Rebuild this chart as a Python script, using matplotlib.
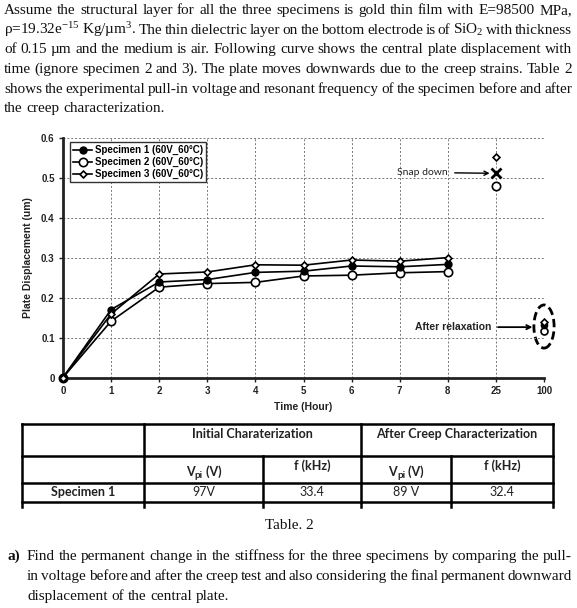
import numpy as np
import matplotlib
matplotlib.use('Agg')
import matplotlib.pyplot as plt
from matplotlib.patches import Ellipse

plt.rcParams['font.family'] = 'Liberation Sans'
plt.rcParams['mathtext.fontset'] = 'custom'
plt.rcParams['mathtext.rm'] = 'Liberation Serif'
plt.rcParams['mathtext.it'] = 'Liberation Serif:italic'
plt.rcParams['mathtext.bf'] = 'Liberation Serif:bold'

# ---- data ----
time_labels = ['0', '1', '2', '3', '4', '5', '6', '7', '8', '25', '100']
spec1 = [0, 0.170, 0.239, 0.245, 0.263, 0.266, 0.279, 0.277, 0.283]
spec2 = [0, 0.141, 0.226, 0.235, 0.238, 0.254, 0.256, 0.262, 0.265]
spec3 = [0, 0.159, 0.259, 0.264, 0.282, 0.281, 0.294, 0.291, 0.300]
snap = [0.511, 0.479, 0.552]       # at 25 h (spec 1, 2, 3)
relax = [0.132, 0.116, 0.140]      # at 100 h
legend_labels = ['Specimen 1 (60V_60°C)', 'Specimen 2 (60V_60°C)', 'Specimen 3 (60V_60°C)']
y_ticks = [0, 0.1, 0.2, 0.3, 0.4, 0.5, 0.6]
y_tick_labels = ['0', '0.1', '0.2', '0.3', '0.4', '0.5', '0.6']

table_groups = ['Initial Charaterization', 'After Creep Characterization']
table_units = ['(V)', 'f (kHz)', '(V)', 'f (kHz)']
table_row = ['Specimen 1', '97V', '33.4', '89 V', '32.4']

paragraph = [
    'Assume the structural layer for all the three specimens is gold thin film with E=98500 MPa,',
    'ρ=19.32e$^{-15}$ Kg/µm$^{3}$. The thin dielectric layer on the bottom electrode is of SiO$_{2}$ with thickness',
    'of 0.15 µm and the medium is air. Following curve shows the central plate displacement with',
    'time (ignore specimen 2 and 3). The plate moves downwards due to the creep strains. Table 2',
    'shows the experimental pull-in voltage and resonant frequency of the specimen before and after',
    'the creep characterization.',
]
question = [
    'Find the permanent change in the stiffness for the three specimens by comparing the pull-',
    'in voltage before and after the creep test and also considering the final permanent downward',
    'displacement of the central plate.',
]

W, H = 577, 608
fig = plt.figure(figsize=(W / 100, H / 100), dpi=100)
bg = fig.add_axes([0, 0, 1, 1])
bg.set_xlim(0, W)
bg.set_ylim(H, 0)
bg.axis('off')
renderer = fig.canvas.get_renderer()


def justify(line, x0, x1, y, stretch=True, **kw):
    words = line.split(' ')
    texts = [bg.text(0, y, w, va='baseline', ha='left', **kw) for w in words]
    widths = [t.get_window_extent(renderer).width for t in texts]
    gap = 3.8
    if stretch and len(words) > 1:
        gap = (x1 - x0 - sum(widths)) / (len(words) - 1)
    x = x0
    for t, w in zip(texts, widths):
        t.set_x(x)
        x += w + gap


def runs(xc, y, parts, **kw):
    # parts: (text, size, dy)
    texts = [bg.text(0, y + dy, s, fontsize=fs, va='baseline', ha='left', **kw) for s, fs, dy in parts]
    widths = [t.get_window_extent(renderer).width for t in texts]
    x = xc - sum(widths) / 2
    for t, w in zip(texts, widths):
        t.set_x(x)
        x += w


serif = dict(family='Liberation Serif', fontsize=11, color='#111111')
base_y = [14, 34, 53, 73, 93, 112]
for i, line in enumerate(paragraph):
    justify(line, 4, 572, base_y[i], stretch=(i < len(paragraph) - 1), **serif)

# ---- chart ----
ax = fig.add_axes([63 / W, 1 - 377.5 / H, 481 / W, 239.8 / H])
pos = np.arange(len(time_labels))
n = len(spec1)
l1, = ax.plot(pos[:n], spec1, '-o', color='black', mfc='black', ms=5, lw=1.2, clip_on=False, zorder=4)
l2, = ax.plot(pos[:n], spec2, '-o', color='black', mfc='white', ms=6, mew=1.2, lw=1.2, clip_on=False, zorder=3)
l3, = ax.plot(pos[:n], spec3, '-D', color='black', mfc='white', ms=3.5, mew=1.2, lw=1.2, clip_on=False, zorder=5)

ax.plot(pos[9], snap[0], 'x', color='black', ms=7, mew=2, zorder=4)
ax.plot(pos[9], snap[1], 'o', color='black', mfc='white', ms=6, mew=1.2, zorder=4)
ax.plot(pos[9], snap[2], 'D', color='black', mfc='white', ms=3.5, mew=1.2, zorder=4)
ax.plot(pos[10], relax[1], 'o', color='black', mfc='white', ms=5, mew=1.2, clip_on=False, zorder=4)
ax.plot(pos[10], relax[0], 'o', color='black', mfc='black', ms=4.5, clip_on=False, zorder=5)
ax.plot(pos[10], relax[2], 'D', color='black', mfc='white', ms=3.5, mew=1.2, clip_on=False, zorder=6)
ax.add_patch(Ellipse((pos[10], 0.1275), 0.42, 0.108, fill=False, ls=(0, (3, 1.5)), lw=2,
                     color='black', clip_on=False))

ax.annotate('Snap down', xy=(pos[9] - 0.13, snap[0]), xytext=(8.0, snap[0] + 0.002),
            ha='right', va='center', fontsize=7.5, family='Lato', color='#222222',
            arrowprops=dict(arrowstyle='->', lw=1, color='black', shrinkA=3, shrinkB=0))
ax.annotate('After relaxation', xy=(pos[10] - 0.24, 0.126), xytext=(8.9, 0.126),
            ha='right', va='center', fontsize=7.5, fontweight='bold', color='#222222',
            arrowprops=dict(arrowstyle='->', lw=1.3, color='black', shrinkA=3, shrinkB=0))

ax.set_xlim(0, 10)
ax.set_ylim(0, 0.6)
ax.set_xticks(pos)
ax.set_xticklabels(time_labels)
ax.set_yticks(y_ticks)
ax.set_yticklabels(y_tick_labels)
ax.tick_params(labelsize=7, length=3, width=1, pad=3, colors='#222222')
for lbl in ax.get_xticklabels() + ax.get_yticklabels():
    lbl.set_fontweight('bold')
ax.grid(True, color='#777777', ls=(0, (2, 2)), lw=0.7)
for s in ['top', 'right']:
    ax.spines[s].set_visible(False)
for s in ['left', 'bottom']:
    ax.spines[s].set_linewidth(2)
    ax.spines[s].set_color('#222222')

ax.set_xlabel('Time (Hour)', fontsize=7.5, fontweight='bold', color='#222222')
ax.xaxis.set_label_coords(0.5, -0.102)
ax.set_ylabel('Plate Displacement (um)', fontsize=7.5, fontweight='bold', color='#222222')
ax.yaxis.set_label_coords(-0.062, 0.5)

leg = ax.legend([l1, l2, l3], legend_labels, loc='upper left', bbox_to_anchor=(0.0146, 0.982),
                fancybox=False, edgecolor='#333333', framealpha=1,
                prop=dict(weight='bold', size=7), handlelength=2.0, handletextpad=0.3,
                labelspacing=0.2, borderpad=0.3, borderaxespad=0)
leg.get_frame().set_linewidth(1)

# ---- table ----
cols = [22, 144, 263, 361, 451, 553]
rows = [424, 456, 483, 502]
bottom = 507
tl = dict(color='black', lw=1.8, solid_capstyle='projecting')
for yy in rows:
    bg.plot([cols[0], cols[-1]], [yy, yy], **tl)
for i, xx in enumerate(cols):
    top = rows[1] if i in (2, 4) else rows[0]
    bg.plot([xx, xx], [top, bottom], **tl)

fs_tab = 9
hdr = dict(family='Lato', fontweight='bold', color='#222222')
bg.text((cols[1] + cols[3]) / 2, 434, table_groups[0], ha='center', va='center', fontsize=fs_tab, **hdr)
bg.text((cols[3] + cols[5]) / 2, 434, table_groups[1], ha='center', va='center', fontsize=fs_tab, **hdr)
for j in range(4):
    xc = (cols[j + 1] + cols[j + 2]) / 2
    if j % 2 == 0:
        runs(xc, 476, [('V', fs_tab, 0), ('pi', 7, 2.5), (' ' + table_units[j], fs_tab, 0)], **hdr)
    else:
        bg.text(xc, 470, table_units[j], ha='center', va='baseline', fontsize=fs_tab, **hdr)
bg.text((cols[0] + cols[1]) / 2, 496.5, table_row[0], ha='center', va='baseline', fontsize=fs_tab, **hdr)
for j in range(4):
    xc = (cols[j + 1] + cols[j + 2]) / 2
    bg.text(xc, 496.5, table_row[j + 1], ha='center', va='baseline', fontsize=fs_tab,
            family='Lato', color='#222222')

# ---- caption and question ----
bg.text(289, 529, 'Table. 2', ha='center', va='baseline', **serif)
bg.text(8, 560, 'a)', ha='left', va='baseline', fontweight='bold', **serif)
q_y = [560, 580, 600]
for i, line in enumerate(question):
    justify(line, 27, 572, q_y[i], stretch=(i < len(question) - 1), **serif)

fig.savefig('out.png', dpi=100)
